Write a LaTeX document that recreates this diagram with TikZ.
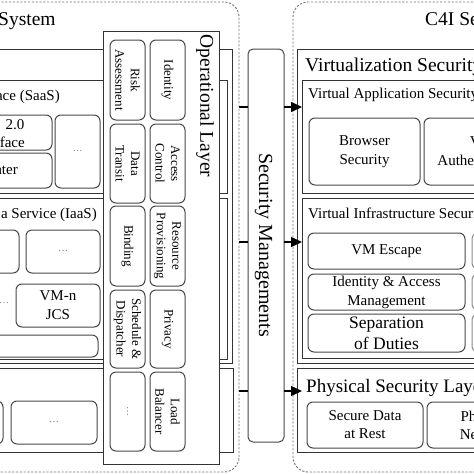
\documentclass[tikz,border=0pt]{standalone}
\usepackage{fontspec}
\setmainfont{Liberation Serif}
\usetikzlibrary{arrows.meta}
\begin{document}
\begin{tikzpicture}[x=1pt,y=-1pt,
  lay/.style={draw=black!80, line width=0.9pt, inner sep=0pt, outer sep=0pt},
  rb/.style={draw=black!72, line width=1pt, rounded corners=6pt, inner sep=0pt, outer sep=0pt, align=center},
  gb/.style={draw=black!45, line width=1pt, rounded corners=6pt, inner sep=0pt, outer sep=0pt},
  dbox/.style={draw=black!55, line width=0.9pt, dash pattern=on 2.2pt off 1.6pt, rounded corners=15pt, inner sep=0pt, outer sep=0pt},
  fa/.style={font=\fontsize{13}{15.5}\selectfont, align=center},
  fb/.style={font=\fontsize{15}{19}\selectfont, align=center},
  fc/.style={font=\fontsize{17.5}{21}\selectfont, align=center},
  fd/.style={font=\fontsize{19.5}{23}\selectfont},
  dots/.style={font=\fontsize{10}{12}\selectfont, text=black!55},
  stub/.style={line width=1.3pt, draw=black},
  arr/.style={line width=1.3pt, draw=black, -{Triangle[length=11pt,width=10pt]}}
]
\useasboundingbox (0,0) rectangle (474,474);
\clip (0,0) rectangle (474,474);

% ---------- left system ----------
\node[dbox, minimum width=299pt, minimum height=470pt] (sys) at (89.5,237) {};
\node[fd, anchor=base west, inner sep=0pt] (systitle) at (-2,25) {System};

\node[lay, minimum width=292pt, minimum height=314pt] (boxA) at (86,206) {};
\node[lay, minimum width=287pt, minimum height=113pt] (saas) at (83.5,136.5) {};
\node[fb, anchor=base east, inner sep=0pt] (saast) at (60,100) {ace (SaaS)};
\node[rb, minimum width=112pt, minimum height=35pt] (web) at (-4,132.5) {};
\node[fb, anchor=base, inner sep=0pt] (webt1) at (15,129) {2.0};
\node[fb, anchor=base east, inner sep=0pt] (webt2) at (25,147) {face};
\node[rb, minimum width=112pt, minimum height=35pt] (upd) at (-4,170.5) {};
\node[fb, anchor=base east, inner sep=0pt] (updt) at (18,174) {ater};
\node[rb, minimum width=45pt, minimum height=73pt, dots] (saasd) at (77.5,151.5) {\dots};

\node[lay, minimum width=287pt, minimum height=161pt] (iaas) at (83.5,278.5) {};
\node[fb, anchor=base east, inner sep=0pt] (iaast) at (97,218) {a Service (IaaS)};
\node[rb, minimum width=79pt, minimum height=43pt] (ib1) at (-20.5,251.5) {};
\node[rb, minimum width=74pt, minimum height=43pt, dots] (ibd) at (63,251.5) {\dots};
\node[dots] (ivd) at (4,303) {\dots};
\node[rb, minimum width=84pt, minimum height=43pt, fb] (vmn) at (58,305.5) {VM-n\\JCS};
\node[rb, minimum width=158pt, minimum height=22pt] (ib3) at (19,346) {};

\node[lay, minimum width=293pt, minimum height=84pt] (boxB) at (86.5,410) {};
\node[rb, minimum width=63pt, minimum height=43pt] (bb1) at (-28.5,422.5) {};
\node[rb, minimum width=86pt, minimum height=43pt, dots] (bbd) at (54,422.5) {\dots};

% ---------- operational layer ----------
\node[lay, fill=white, minimum width=116pt, minimum height=433pt] (op) at (161,247.5) {};
\node[fd, rotate=-90] (opt) at (205,106) {Operational Layer};
\tikzset{opb/.style={rb, rotate=-90, minimum height=35pt, fa}}
\node[opb, minimum width=80pt] (o11) at (127.5,80) {Risk\\Assessment};
\node[opb, minimum width=79pt] (o12) at (127.5,163.5) {Data\\Transit};
\node[opb, minimum width=80pt] (o13) at (127.5,246) {Binding};
\node[opb, minimum width=78pt] (o14) at (127.5,329) {Schedule \&\\Dispatcher};
\node[opb, minimum width=79pt, font=\fontsize{10}{12}\selectfont, text=black!55] (o15) at (127.5,411.5) {\dots};
\node[opb, minimum width=80pt] (o21) at (167.5,80) {Identity};
\node[opb, minimum width=79pt] (o22) at (167.5,163.5) {Access\\Control};
\node[opb, minimum width=80pt] (o23) at (167.5,246) {Resource\\Provisioning};
\node[opb, minimum width=78pt] (o24) at (167.5,329) {Privacy};
\node[opb, minimum width=79pt] (o25) at (167.5,411.5) {Load\\Balancer};

% ---------- security managements ----------
\node[rb, rounded corners=5pt, minimum width=36pt, minimum height=393pt] (sm) at (266,245.5) {};
\node[font=\fontsize{20}{24}\selectfont, rotate=-90] (smt) at (263.5,245) {Security Managements};

% ---------- right C4I system ----------
\node[dbox, minimum width=267pt, minimum height=470pt] (c4i) at (426.5,237) {};
\node[fd, anchor=base west, inner sep=0pt] (c4it) at (425,25) {C4I Se};

\node[lay, minimum width=263pt, minimum height=314pt] (virt) at (428.5,206) {};
\node[fd, anchor=base west, inner sep=0pt] (virtt) at (305,71) {Virtualization Security};
\node[lay, minimum width=258pt, minimum height=113pt] (vas) at (431,136.5) {};
\node[fb, anchor=base west, inner sep=0pt] (vast) at (308,98) {Virtual Application Security};
\node[rb, minimum width=111pt, minimum height=67pt, fb] (brs) at (364.5,151.5) {Browser\\Security};
\node[rb, minimum width=116pt, minimum height=67pt, fb] (vau) at (482,151.5) {VM\\Authentication};

\node[lay, minimum width=258pt, minimum height=160pt] (vis) at (431,278) {};
\node[fb, anchor=base west, inner sep=0pt] (vist) at (308,218) {Virtual Infrastructure Security};
\node[rb, minimum width=157pt, minimum height=36pt, fb] (vme) at (386.5,251) {VM Escape};
\node[rb, minimum width=157pt, minimum height=36pt, fb] (iam) at (386.5,292) {Identity \& Access\\Management};
\node[rb, minimum width=157pt, minimum height=38pt, fc] (sod) at (386.5,333) {Separation\\of Duties};
\node[gb, minimum width=128pt, minimum height=36pt] (g1) at (536,251) {};
\node[gb, minimum width=128pt, minimum height=36pt] (g2) at (536,292) {};
\node[gb, minimum width=128pt, minimum height=38pt] (g3) at (536,333) {};

\node[lay, minimum width=263pt, minimum height=84pt] (phys) at (428.5,410) {};
\node[font=\fontsize{19}{23}\selectfont, anchor=base west, inner sep=0pt] (physt) at (306,392) {Physical Security Layer};
\node[rb, minimum width=116pt, minimum height=46pt, font=\fontsize{15}{18}\selectfont] (sdr) at (365,425) {Secure Data\\at Rest};
\node[rb, minimum width=118pt, minimum height=46pt, font=\fontsize{15}{18}\selectfont] (pnet) at (486,425) {Physical\\Network};

% ---------- connectors ----------
\coordinate (l1) at (239,107);
\coordinate (l2) at (239,242);
\coordinate (l3) at (239,391);
\draw[stub] (l1) -- (sm.west |- l1);
\draw[stub] (l2) -- (sm.west |- l2);
\draw[stub] (l3) -- (sm.west |- l3);
\draw[arr] (sm.east |- l1) -- (vas.west |- l1);
\draw[arr] (sm.east |- l2) -- (vis.west |- l2);
\draw[arr] (sm.east |- l3) -- (vis.west |- l3);
\end{tikzpicture}
\end{document}
